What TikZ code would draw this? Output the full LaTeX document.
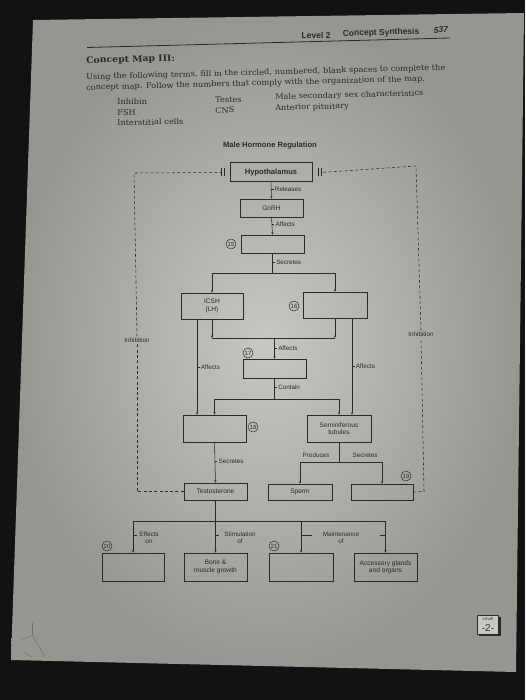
\documentclass[tikz,border=0pt]{standalone}
\usepackage{fontspec}
\setmainfont[FakeStretch=1.06]{DejaVu Serif}
\setsansfont{Liberation Sans}
\usetikzlibrary{arrows.meta,calc}
\definecolor{ink}{RGB}{42,42,42}
\definecolor{pagec}{RGB}{200,200,194}
\definecolor{pagee}{RGB}{150,150,144}
\definecolor{pencil}{RGB}{110,110,106}
\begin{document}
\begin{tikzpicture}[x=1pt,y=-1pt,
  bx/.style={draw=ink, line width=0.6pt, inner sep=0pt, font=\sffamily\fontsize{6.6}{7.4}\selectfont, align=center, text=ink},
  num/.style={circle, draw=ink, line width=0.5pt, inner sep=0pt, minimum size=10pt, font=\sffamily\fontsize{6}{6}\selectfont, text=ink},
  con/.style={draw=ink, line width=0.55pt},
  arr/.style={con, -{Stealth[length=2.6pt,width=2.2pt]}},
  lbl/.style={font=\sffamily\fontsize{6.3}{7.2}\selectfont, text=ink, inner sep=1pt, align=center},
  inh/.style={con, dash pattern=on 3pt off 2.3pt},
  hdr/.style={font=\sffamily\bfseries\fontsize{8.5}{9}\selectfont, text=ink, rotate=1.5, inner sep=0pt},
  body/.style={font=\fontsize{7.8}{9}\selectfont, text=ink, rotate=1.5, anchor=west, inner sep=0pt},
  bodycont/.style={body, anchor=base west}
]
\useasboundingbox (0,0) rectangle (525,700);
% photo background and page
\fill[black!93] (0,0) rectangle (525,700);
\shade[inner color=pagec, outer color=pagee] (33,20) -- (524,13) -- (516,672) -- (11,660) -- cycle;
% pencil marks
\draw[pencil, line width=0.4pt] (22,640) -- (32,635) -- (45,657);
\draw[pencil, line width=0.4pt] (32,635) -- (32,623);
\draw[pencil, line width=0.4pt] (23,652) -- (32,657);

% header
\node[hdr] (h1) at (316,35.5) {Level 2};
\node[hdr] (h2) at (381,33) {Concept Synthesis};
\node[hdr, font=\sffamily\bfseries\itshape\fontsize{8.5}{9}\selectfont] (h3) at (441,30) {537};
\draw[ink, line width=0.8pt] (87,47.5) -- (450,38);
\node[body, font=\bfseries\fontsize{8.8}{10}\selectfont] (cm) at (86,61) {Concept Map III:};
\node[body] (u1) at (86,77.5) {Using the following terms,};
\node[bodycont] (u2) at (u1.base east) {\ fill in the circled, numbered,};
\node[bodycont] (u3) at (u2.base east) {\ blank spaces to complete the};
\node[body] (v1) at (86,88) {concept map. Follow the};
\node[bodycont] (v2) at (v1.base east) {\ numbers that comply with};
\node[bodycont] (v3) at (v2.base east) {\ the organization of the map.};
\node[body] at (117,102) {Inhibin};
\node[body] at (117,112.5) {FSH};
\node[body] at (117,123) {Interstitial cells};
\node[body] at (215,100) {Testes};
\node[body] at (215,110.5) {CNS};
\node[body] (ms1) at (275,97.5) {Male secondary};
\node[bodycont] (ms2) at (ms1.base east) {\ sex characteristics};
\node[body] at (275,108.5) {Anterior pituitary};

% title
\node[font=\sffamily\bfseries\fontsize{7.6}{8.5}\selectfont, text=ink] (title) at (270,146) {Male Hormone Regulation};

% boxes
\node[bx, line width=1pt, font=\sffamily\bfseries\fontsize{7.6}{8.5}\selectfont, minimum width=82, minimum height=19] (hyp) at (271,172.5) {Hypothalamus};
\node[bx, minimum width=63, minimum height=18] (gnrh) at (271.5,208) {GnRH};
\node[bx, minimum width=63, minimum height=18] (b15) at (272.5,244) {};
\node[num] (c15) at (231,244) {15};
\node[bx, minimum width=62, minimum height=26] (icsh) at (212,306) {ICSH\\(LH)};
\node[bx, minimum width=64, minimum height=26] (b16) at (335,305) {};
\node[num] (c16) at (294,306) {16};
\node[bx, minimum width=63, minimum height=19] (b17) at (274.5,368.5) {};
\node[num] (c17) at (248,353) {17};
\node[bx, minimum width=63, minimum height=27] (b18) at (214.5,428.5) {};
\node[num] (c18) at (253,427) {18};
\node[bx, minimum width=64, minimum height=27] (semi) at (339,428.5) {Seminiferous\\tubules};
\node[bx, minimum width=63, minimum height=17] (testo) at (215.5,491.5) {Testosterone};
\node[bx, minimum width=64, minimum height=16] (sperm) at (300,492) {Sperm};
\node[bx, minimum width=62, minimum height=16] (b19) at (382,492) {};
\node[num] (c19) at (406,476) {19};
\node[bx, minimum width=62, minimum height=28] (b20) at (133,567) {};
\node[num] (c20) at (107,546) {20};
\node[bx, minimum width=63, minimum height=28] (bone) at (215.5,567) {Bone \&\\muscle growth};
\node[bx, minimum width=64, minimum height=28] (b21) at (301,567) {};
\node[num] (c21) at (274,546) {21};
\node[bx, minimum width=63, minimum height=28] (acc) at (385.5,567) {Accessory glands\\and organs};

% junction coordinates
\coordinate (j1) at (272.5,273);
\coordinate (j2) at (274.5,338);
\coordinate (j3) at (274.5,399);
\coordinate (j4) at (339,462);
\coordinate (j5) at (215.5,521);
\coordinate (tk) at (0,535.5);

% connectors
\draw[arr] (hyp.south) -- (gnrh.north);
\draw[con] ($(hyp.south)!0.4!(gnrh.north)$) -- ++(2.5,0) node[lbl, anchor=west] {Releases};
\draw[arr] (gnrh.south) -- (b15.north);
\draw[con] ($(gnrh.south)!0.4!(b15.north)$) -- ++(2.5,0) node[lbl, anchor=west] {Affects};
\draw[con] (b15.south) -- (j1);
\draw[con] ($(b15.south)!0.45!(j1)$) -- ++(2.5,0) node[lbl, anchor=west] {Secretes};
\draw[arr] (j1) -| (icsh.north);
\draw[arr] (j1) -| (b16.north);

\draw[arr] (icsh.south) -- (icsh.south |- j2);
\draw[arr] (b16.south) -- (b16.south |- j2);
\draw[con] (icsh.south |- j2) -- (b16.south |- j2);
\draw[arr] (j2) -- (b17.north);
\draw[con] ($(j2)!0.5!(b17.north)$) -- ++(2.5,0) node[lbl, anchor=west] {Affects};

\draw[arr] ([xshift=-15]icsh.south) -- ([xshift=-15]icsh.south |- b18.north);
\draw[con] ([xshift=-15]icsh.south |- 0,367) -- ++(2.5,0) node[lbl, anchor=west] {Affects};
\draw[arr] ([xshift=17]b16.south) -- ([xshift=17]b16.south |- semi.north);
\draw[con] ([xshift=17]b16.south |- 0,366) -- ++(2.5,0) node[lbl, anchor=west] {Affects};

\draw[con] (b17.south) -- (j3);
\draw[con] ($(b17.south)!0.45!(j3)$) -- ++(2.5,0) node[lbl, anchor=west] {Contain};
\draw[arr] (j3) -| (b18.north);
\draw[arr] (j3) -| (semi.north);

\draw[arr] (b18.south) -- (testo.north);
\draw[con] ($(b18.south)!0.47!(testo.north)$) -- ++(2.5,0) node[lbl, anchor=west] {Secretes};

\draw[con] (semi.south) -- (j4);
\draw[arr] (j4) -| (sperm.north);
\draw[arr] (j4) -| (b19.north);
\node[lbl] (prod) at (316,455.5) {Produces};
\node[lbl] (secr) at (365,455.5) {Secretes};

\draw[con] (testo.south) -- (j5);
\draw[arr] (j5) -| (b20.north);
\draw[arr] (j5) -- (bone.north);
\draw[arr] (j5) -| (b21.north);
\draw[arr] (j5) -| (acc.north);
\draw[con] (b20.north |- tk) -- ++(3.5,0);
\draw[con] (bone.north |- tk) -- ++(3.5,0);
\draw[con] (b21.north |- tk) -- ++(11,0);
\draw[con] (acc.north |- tk) -- ++(-6,0);
\node[lbl] (effl) at (149,538) {Effects\\on};
\node[lbl] (stim) at (240,538) {Stimulation\\of};
\node[lbl] (main) at (341,538) {Maintenance\\of};

% inhibition feedback
\coordinate (tl) at (134,173);
\coordinate (bl) at (137,491.5);
\coordinate (tr) at (416,166);
\coordinate (br) at (424,491.5);
\node[lbl] (inhl) at (137,340) {Inhibition};
\node[lbl] (inhr) at (421,334) {Inhibition};
\draw[inh] (testo.west) -- (bl) -- (inhl.south);
\draw[inh] (inhl.north) -- (tl) -- ([xshift=-8]hyp.west);
\draw[inh] (b19.east) -- (br) -- (inhr.south);
\draw[inh] (inhr.north) -- (tr) -- ([xshift=8.5]hyp.east);
\draw[con, line width=0.7pt] ([xshift=-8]hyp.west) ++(0,-4) -- ++(0,8);
\draw[con, line width=0.7pt] ([xshift=-5.5]hyp.west) ++(0,-4) -- ++(0,8);
\draw[con, line width=0.7pt] ([xshift=6]hyp.east) ++(0,-4) -- ++(0,8);
\draw[con, line width=0.7pt] ([xshift=8.5]hyp.east) ++(0,-4) -- ++(0,8);

% level badge
\fill[ink] (479,617) rectangle (501,636);
\node[draw=ink, fill=pagec, line width=0.6pt, minimum width=21, minimum height=19, inner sep=0pt] (lvl) at (488,624.5) {};
\node[font=\sffamily\fontsize{4.5}{5}\selectfont, text=ink, inner sep=0pt] (lvlt) at (488,619) {Level};
\node[font=\sffamily\fontsize{10}{10}\selectfont, text=ink, inner sep=0pt] (lvln) at (488,628.5) {-2-};
\end{tikzpicture}
\end{document}
